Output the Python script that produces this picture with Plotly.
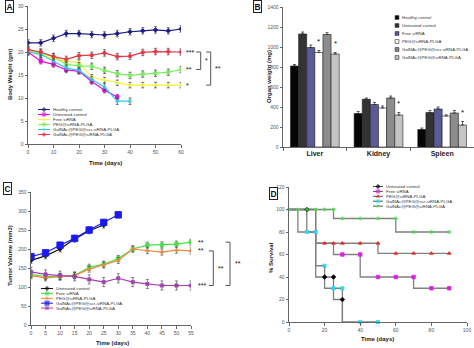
import plotly.graph_objects as go

W, H = 474, 348
FONT = "Liberation Sans, Arial, sans-serif"

# ---------------- Panel A: body weight over time ----------------
days_a = [0, 5, 10, 15, 20, 25, 30, 35, 40, 45, 50, 55, 60]
bw_healthy = [22.0, 22.0, 23.0, 24.0, 24.0, 23.8, 23.7, 24.0, 24.4, 24.6, 24.8, 24.6, 25.0]
bw_untreated = [20.0, 18.0, 17.3, 16.1, 15.8, 13.6, 11.7, 10.2]
bw_free = [20.5, 19.5, 18.5, 18.0, 17.7, 14.5, 13.9, 13.3, 12.8, 12.8, 12.8, 12.8, 12.8]
bw_peg = [20.3, 19.8, 19.0, 17.3, 17.0, 16.9, 16.0, 15.3, 14.9, 15.2, 15.4, 15.6, 16.2]
bw_scr = [20.0, 19.5, 18.0, 16.5, 16.0, 14.0, 12.4, 9.3, 9.3]
bw_galnac = [20.5, 20.0, 19.0, 18.4, 19.2, 19.3, 19.8, 19.0, 19.1, 19.9, 20.1, 20.1, 20.0]
bw_err = [0.7, 0.6, 0.6, 0.7, 0.7, 0.7]

# ---------------- Panel B: organ weights ----------------
organs = ["Liver", "Kidney", "Spleen"]
ow_healthy = [810, 335, 175]
ow_untreated = [1130, 478, 345]
ow_free = [995, 425, 380]
ow_peg = [945, 390, 310]
ow_scr = [1125, 490, 340]
ow_galnac = [930, 320, 220]
ow_err_healthy = [15, 20, 15]
ow_err_untreated = [20, 12, 20]
ow_err_free = [25, 20, 20]
ow_err_peg = [20, 20, 12]
ow_err_scr = [18, 20, 25]
ow_err_galnac = [15, 25, 35]

# ---------------- Panel C: tumour volume ----------------
days_c = [0, 5, 10, 15, 20, 25, 30, 35, 40, 45, 50, 55]
tv_untreated = [170, 182, 200, 226, 248, 263]
tv_free = [133, 127, 128, 130, 152, 160, 175, 200, 210, 211, 213, 218]
tv_peg = [130, 124, 127, 130, 147, 158, 170, 200, 196, 192, 197, 195]
tv_scr = [180, 190, 210, 228, 250, 270, 290]
tv_galnac = [140, 133, 130, 128, 120, 113, 123, 113, 108, 104, 104, 104]
tv_err = [8, 8, 8, 8, 12]

# ---------------- Panel D: survival ----------------
# step curves (day, % survival) and the days carrying a marker
surv_untreated_x = [0, 10, 15, 25, 30]
surv_untreated_y = [100, 80, 40, 20, 0]
mark_untreated_x = [10, 20, 25, 30]
mark_untreated_y = [100, 40, 40, 20]

surv_free_x = [0, 15, 25, 40, 70, 90]
surv_free_y = [100, 70, 60, 40, 30, 30]
mark_free_x = [30, 40, 50, 60, 70, 80, 90]
mark_free_y = [60, 60, 40, 40, 40, 30, 30]

surv_peg_x = [0, 15, 50, 90]
surv_peg_y = [100, 70, 61, 61]
mark_peg_x = [20, 25, 30, 40, 50, 60, 70, 80, 90]
mark_peg_y = [70, 70, 70, 70, 70, 61, 61, 61, 61]

surv_scr_x = [0, 5, 15, 20, 30, 50]
surv_scr_y = [100, 80, 50, 30, 0, 0]
mark_scr_x = [10, 15, 20, 25, 30, 40, 50]
mark_scr_y = [80, 80, 50, 30, 30, 0, 0]

surv_galnac_x = [0, 25, 60, 90]
surv_galnac_y = [100, 92, 80, 80]
mark_galnac_x = [0, 5, 10, 15, 20, 25, 30, 40, 50, 60, 70, 80, 90]
mark_galnac_y = [100, 100, 100, 100, 100, 100, 92, 92, 92, 92, 80, 80, 80]

labels_a = ["Healthy control", "Untreated control", "Free siRNA", "PEG@siRNA-PLGA",
            "GalNAc@PEG@scr-siRNA-PLGA", "GalNAc@PEG@siRNA-PLGA"]
labels_c = ["Untreated control", "Free siRNA", "PEG@siRNA-PLGA",
            "GalNAc@PEG@scr-siRNA-PLGA", "GalNAc@PEG@siRNA-PLGA"]


def pxx(x):
    return x / W


def pxy(y):
    return 1 - y / H


fig = go.Figure()

# ---- A traces ----
a_series = [
    (bw_healthy, "#1c1c88", "diamond"),
    (bw_untreated, "#e010e0", "square"),
    (bw_free, "#f2f23a", "triangle-up"),
    (bw_peg, "#77ee5a", "x"),
    (bw_scr, "#30c8ec", "asterisk"),
    (bw_galnac, "#ec3444", "circle"),
]
for (vals, col, sym), err, name in zip(a_series, bw_err, labels_a):
    fig.add_trace(go.Scatter(
        x=days_a[:len(vals)], y=vals, mode="lines+markers", name=name,
        line=dict(color=col, width=1.2),
        marker=dict(color=col, size=3.5, symbol=sym, line=dict(color=col, width=0.8)),
        error_y=dict(type="constant", value=err, color="#444", thickness=0.7, width=1.5),
        xaxis="x", yaxis="y", showlegend=False))

# ---- B traces ----
b_series = [
    (ow_healthy, ow_err_healthy, "#050505"),
    (ow_untreated, ow_err_untreated, "#333333"),
    (ow_free, ow_err_free, "#5a5a98"),
    (ow_peg, ow_err_peg, "#ffffff"),
    (ow_scr, ow_err_scr, "#8c8c8c"),
    (ow_galnac, ow_err_galnac, "#c4c4c4"),
]
for (vals, errs, col), name in zip(b_series, labels_a):
    fig.add_trace(go.Bar(
        x=organs, y=vals, name=name, marker=dict(color=col, line=dict(color="#222", width=0.6)),
        error_y=dict(type="data", array=errs, symmetric=False, arrayminus=[0, 0, 0],
                     color="#222", thickness=0.7, width=1.5),
        xaxis="x2", yaxis="y2", showlegend=False))

# ---- C traces ----
c_series = [
    (tv_untreated, "#111111", "diamond", 3.5),
    (tv_free, "#44e044", "square", 3.5),
    (tv_peg, "#f08a3c", "triangle-up", 3.5),
    (tv_scr, "#1a1aee", "square", 6.5),
    (tv_galnac, "#a040b0", "x", 3.5),
]
for (vals, col, sym, ms), err, name in zip(c_series, tv_err, labels_c):
    fig.add_trace(go.Scatter(
        x=days_c[:len(vals)], y=vals, mode="lines+markers", name=name,
        line=dict(color=col, width=1.2),
        marker=dict(color=col, size=ms, symbol=sym, line=dict(color=col, width=0.8)),
        error_y=dict(type="constant", value=err, color="#555", thickness=0.7, width=1.5),
        xaxis="x3", yaxis="y3", showlegend=False))

# ---- D traces ----
d_series = [
    (surv_untreated_x, surv_untreated_y, mark_untreated_x, mark_untreated_y, "#000000", "diamond"),
    (surv_free_x, surv_free_y, mark_free_x, mark_free_y, "#e020e0", "square"),
    (surv_peg_x, surv_peg_y, mark_peg_x, mark_peg_y, "#e02828", "triangle-up"),
    (surv_scr_x, surv_scr_y, mark_scr_x, mark_scr_y, "#20e0f0", "x"),
    (surv_galnac_x, surv_galnac_y, mark_galnac_x, mark_galnac_y, "#40e040", "asterisk"),
]
for sx, sy, mx, my, col, sym in d_series:
    fig.add_trace(go.Scatter(x=sx, y=sy, mode="lines", line=dict(color="#808080", width=1.3, shape="hv"),
                             xaxis="x4", yaxis="y4", showlegend=False, hoverinfo="skip"))
for (sx, sy, mx, my, col, sym), name in zip(d_series, labels_c):
    fig.add_trace(go.Scatter(x=mx, y=my, mode="markers", name=name,
                             marker=dict(color=col, size=3.5, symbol=sym, line=dict(color=col, width=0.8)),
                             xaxis="x4", yaxis="y4", showlegend=False, cliponaxis=False))

shapes = []
annotations = []
LEG_FONT = dict(size=4.4, color="#333", family=FONT)


def canvas_legend(x0, x1, y0, dy, items, text_x, mode="lines+markers"):
    for i, (label, col, sym, ms, lcol) in enumerate(items):
        y = y0 + i * dy
        if mode == "lines+markers":
            fig.add_trace(go.Scatter(
                x=[x0, (x0 + x1) / 2, x1], y=[y, y, y], mode="lines+markers",
                line=dict(color=lcol, width=1),
                marker=dict(size=[0, ms, 0], color=col, symbol=sym, line=dict(color=col, width=0.6)),
                xaxis="x5", yaxis="y5", showlegend=False, hoverinfo="skip"))
        else:
            fig.add_trace(go.Scatter(
                x=[x0], y=[y], mode="markers",
                marker=dict(size=ms, color=col, symbol=sym, line=dict(color="#222", width=0.6)),
                xaxis="x5", yaxis="y5", showlegend=False, hoverinfo="skip"))
        annotations.append(dict(x=text_x, y=y, xref="x5", yref="y5", text=label, showarrow=False,
                                xanchor="left", yanchor="middle", borderpad=0, font=LEG_FONT))


# legends drawn in figure pixel space
canvas_legend(38, 50, 109.5, 5.0,
              [(lab, col, sym, 3.5, col) for lab, (v, col, sym) in zip(labels_a, a_series)], 51.5)
canvas_legend(397, 397, 17.5, 8.0,
              [(lab, col, "square", 3.8, None) for lab, (v, e, col) in zip(labels_a, b_series)], 400.5,
              mode="markers")
canvas_legend(41, 53, 288.5, 4.9,
              [(lab, col, sym, min(ms, 4.5), col) for lab, (v, col, sym, ms) in zip(labels_c, c_series)], 54.5)
canvas_legend(373, 383, 186.5, 4.9,
              [(lab, col, sym, 3.5, "#555") for lab, (a, b, c, d, col, sym) in zip(labels_c, d_series)], 384.5)

# ---- significance markers ----
star_font = dict(size=7, color="#111", family=FONT)
for vals, txt in [(bw_galnac, "***"), (bw_peg, "**"), (bw_free, "*")]:
    annotations.append(dict(x=days_a[-1], y=vals[-1], xref="x", yref="y", text=txt, showarrow=False,
                            xanchor="left", yanchor="middle", xshift=3, font=star_font))


def bracket(xpx, ytop, ybot, yref, tick=4.5):
    shapes.append(dict(type="path", xref="paper", yref=yref,
                       path=f"M {pxx(xpx - tick)},{ytop} L {pxx(xpx)},{ytop} L {pxx(xpx)},{ybot} L {pxx(xpx - tick)},{ybot}",
                       line=dict(color="#555", width=1)))


bracket(200.7, bw_galnac[-1], bw_peg[-1], "y")
annotations.append(dict(x=pxx(203), y=(bw_galnac[-1] + bw_peg[-1]) / 2, xref="paper", yref="y", text="*",
                        showarrow=False, xanchor="left", yanchor="middle", font=star_font))
bracket(210.7, bw_galnac[-1], bw_free[-1], "y")
annotations.append(dict(x=pxx(213), y=(bw_galnac[-1] + bw_free[-1]) / 2, xref="paper", yref="y", text="**",
                        showarrow=False, xanchor="left", yanchor="middle", font=star_font))

for vals, txt in [(tv_free, "**"), (tv_peg, "**"), (tv_galnac, "***")]:
    annotations.append(dict(x=days_c[-1], y=vals[-1], xref="x3", yref="y3", text=txt, showarrow=False,
                            xanchor="left", yanchor="middle", xshift=5, font=star_font))
bracket(213.3, tv_peg[-1], tv_galnac[-1], "y3")
annotations.append(dict(x=pxx(216), y=(tv_peg[-1] + tv_galnac[-1]) / 2, xref="paper", yref="y3", text="**",
                        showarrow=False, xanchor="left", yanchor="middle", font=star_font))
bracket(230, tv_free[-1], tv_galnac[-1], "y3")
annotations.append(dict(x=pxx(233), y=(tv_free[-1] + tv_galnac[-1]) / 2, xref="paper", yref="y3", text="**",
                        showarrow=False, xanchor="left", yanchor="middle", font=star_font))

# bar-chart stars: (organ index, series index)
bar_w = (W - 283) / 3 * (1 - 0.234) / 6
for oi, si in [(0, 3), (0, 5), (1, 5), (2, 5)]:
    vals, errs, _ = b_series[si]
    annotations.append(dict(x=organs[oi], y=vals[oi] + errs[oi], xref="x2", yref="y2", text="*",
                            showarrow=False, xanchor="center", yanchor="bottom", yshift=2,
                            xshift=(si - 2.5) * bar_w, font=dict(size=8, color="#111", family=FONT)))

# ---- panel letters ----
for letter, cx, cy in [("A", 9, 7), ("B", 257.5, 7), ("C", 8, 188), ("D", 273, 193)]:
    annotations.append(dict(x=pxx(cx), y=pxy(cy), xref="paper", yref="paper", text=f"<b>{letter}</b>",
                            showarrow=False, xanchor="center", yanchor="middle",
                            bordercolor="#222", borderwidth=1, borderpad=0.5, bgcolor="white",
                            font=dict(size=8.5, color="#111", family=FONT)))


# ---- axis titles ----
def title(text, x, y, angle=0, size=6):
    annotations.append(dict(x=pxx(x), y=pxy(y), xref="paper", yref="paper", text=f"<b>{text}</b>",
                            showarrow=False, textangle=angle, xanchor="center", yanchor="middle",
                            font=dict(size=size, color="#222", family=FONT)))


title("Body Weight (gm)", 10, 75, -90)
title("Time (days)", 105, 163)
title("Organ weight (mg)", 269, 77, -90)
title("Tumor Volume (mm3)", 10, 256, -90)
title("Time (days)", 112, 343)
title("% Survival", 271, 258, -90)
title("Time (days)", 377, 339)

axis_common = dict(showline=True, linecolor="#666", linewidth=1, ticks="outside", ticklen=2.5,
                   tickcolor="#666", tickwidth=1, showgrid=False, zeroline=False,
                   tickfont=dict(size=5, color="#555", family=FONT), automargin=False)

fig.update_layout(
    width=W, height=H, margin=dict(l=0, r=0, t=0, b=0),
    paper_bgcolor="white", plot_bgcolor="rgba(0,0,0,0)",
    font=dict(family=FONT), hovermode=False,
    barmode="group", bargap=0.234, bargroupgap=0,
    xaxis=dict(domain=[pxx(28), pxx(181)], range=[0, 60], dtick=10, anchor="y", **axis_common),
    yaxis=dict(domain=[pxy(144), pxy(6)], range=[0, 30], dtick=5, anchor="x", **axis_common),
    xaxis2=dict(domain=[pxx(283), 1.0], range=[-0.5, 2.5], anchor="y2", tickson="boundaries",
                **{**axis_common, "tickfont": dict(size=7, color="#222", family=FONT)}),
    yaxis2=dict(domain=[pxy(147), pxy(7)], range=[0, 1400], dtick=200, anchor="x2", **axis_common),
    xaxis3=dict(domain=[pxx(31), pxx(191)], range=[0, 55], dtick=5, anchor="y3", **axis_common),
    yaxis3=dict(domain=[pxy(325), pxy(192)], range=[0, 350], dtick=50, anchor="x3", **axis_common),
    xaxis4=dict(domain=[pxx(289), pxx(467)], range=[0, 100], dtick=20, anchor="y4", **axis_common),
    yaxis4=dict(domain=[pxy(322), pxy(187)], range=[0, 120], dtick=20, anchor="x4", **axis_common),
    xaxis5=dict(domain=[0, 1], range=[0, W], visible=False, anchor="y5"),
    yaxis5=dict(domain=[0, 1], range=[H, 0], visible=False, anchor="x5"),
    shapes=shapes, annotations=annotations,
)
# bold organ names
fig.update_layout(xaxis2=dict(tickvals=organs, ticktext=[f"<b>{o}</b>" for o in organs]))

fig.write_html("out.html")
